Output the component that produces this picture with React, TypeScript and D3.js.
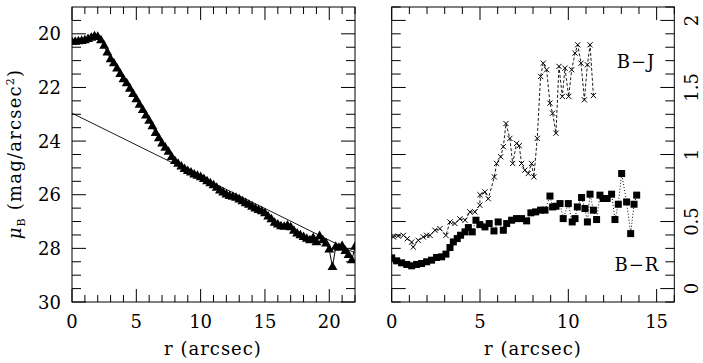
import * as React from "react";
import * as d3 from "d3";

// surface brightness profile, step 0.25 arcsec
const muR = d3.range(0, 89).map((i) => i * 0.25);
const muB = [
  20.3, 20.3, 20.28, 20.27, 20.25, 20.2, 20.15, 20.1, 20.12, 20.25, 20.45, 20.7,
  20.95, 21.1, 21.3, 21.5, 21.7, 21.85, 22.05, 22.25, 22.45, 22.65, 22.85, 23.05,
  23.25, 23.45, 23.7, 23.9, 24.1, 24.25, 24.4, 24.6, 24.75, 24.85, 24.95, 25.05,
  25.12, 25.18, 25.25, 25.3, 25.35, 25.42, 25.5, 25.58, 25.65, 25.75, 25.85, 25.92,
  26.0, 26.05, 26.08, 26.12, 26.18, 26.25, 26.32, 26.38, 26.45, 26.52, 26.58, 26.62,
  26.7, 26.82, 26.92, 27.05, 27.12, 27.18, 27.2, 27.15, 27.22, 27.35, 27.45, 27.52,
  27.58, 27.65, 27.7, 27.62, 27.78, 27.55, 27.7, 27.82, 28.05, 28.7, 27.95, 27.98,
  27.92, 28.1, 28.25, 28.45, 27.95,
];
// exponential disk fit
const fitR = [0, 22];
const fitMu = [22.96, 28.17];

const bjR = [
  0.09, 0.37, 0.66, 0.88, 1.13, 1.22, 1.5, 1.79, 1.98, 2.17, 2.45, 2.73, 3.07, 3.3,
  3.58, 3.86, 4.15, 4.43, 4.71, 4.99, 5.0, 5.28, 5.47, 5.81, 5.94, 6.17, 6.32, 6.47,
  6.69, 6.85, 7.07, 7.22, 7.35, 7.54, 7.73, 7.92, 8.05, 8.24, 8.43, 8.58, 8.77, 8.96,
  9.11, 9.3, 9.47, 9.66, 9.81, 10.02, 10.19, 10.38, 10.53, 10.72, 10.91, 11.08,
  11.23, 11.42,
];
const bjVal = [
  0.385, 0.392, 0.397, 0.372, 0.347, 0.31, 0.36, 0.385, 0.397, 0.397, 0.435, 0.447,
  0.397, 0.497, 0.485, 0.52, 0.51, 0.572, 0.572, 0.622, 0.7, 0.721, 0.67, 0.833,
  0.933, 0.983, 1.058, 1.231, 1.12, 0.933, 1.083, 1.066, 0.933, 0.883, 0.858, 0.933,
  0.833, 1.12, 1.582, 1.681, 1.632, 1.383, 1.308, 1.159, 1.657, 1.433, 1.644, 1.433,
  1.632, 1.756, 1.818, 1.681, 1.408, 1.669, 1.818, 1.44,
];

const brR = [
  0.0, 0.28, 0.56, 0.85, 1.13, 1.41, 1.69, 1.98, 2.26, 2.54, 2.83, 3.07, 3.3, 3.49,
  3.71, 3.9, 4.15, 4.34, 4.56, 4.77, 4.99, 5.28, 5.52, 5.79, 6.03, 6.32, 6.51, 6.79,
  7.07, 7.35, 7.64, 7.88, 8.15, 8.43, 8.68, 8.96, 9.11, 9.3, 9.53, 9.71, 10.0, 10.22,
  10.38, 10.51, 10.75, 10.94, 11.08, 11.23, 11.42, 11.6, 11.79, 11.98, 12.2, 12.45,
  12.64, 12.83, 13.02, 13.3, 13.53, 13.72, 13.87,
];
const brVal = [
  0.229, 0.207, 0.192, 0.18, 0.17, 0.18, 0.187, 0.2, 0.212, 0.232, 0.237, 0.257,
  0.306, 0.348, 0.373, 0.398, 0.423, 0.455, 0.423, 0.51, 0.477, 0.46, 0.485, 0.43,
  0.497, 0.435, 0.485, 0.51, 0.522, 0.522, 0.505, 0.565, 0.572, 0.585, 0.585, 0.69,
  0.609, 0.614, 0.634, 0.522, 0.634, 0.497, 0.522, 0.609, 0.679, 0.597, 0.497, 0.704,
  0.585, 0.515, 0.697, 0.672, 0.672, 0.704, 0.515, 0.629, 0.858, 0.646, 0.41, 0.629,
  0.697,
];

const leftXTicks = d3.range(0, 23);
const leftYTicks = d3.range(39, 61).map((d) => d / 2);
const rightXTicks = d3.range(0, 17);
const rightYTicks = d3.range(-1, 22).map((d) => d / 10);

const font = "DejaVu Serif";
const fs = 18;

const Frame = ({ x, y, xTicks, yTicks, isMajorX, isMajorY }) => {
  const [x0, x1] = x.range();
  const [y1, y0] = y.range();
  return (
    <g stroke="#000" strokeWidth={1} fill="none">
      <rect x={x0} y={y0} width={x1 - x0} height={y1 - y0} />
      {xTicks.map((t) => {
        const len = isMajorX(t) ? 13 : 7;
        const px = x(t);
        return (
          <g key={"x" + t}>
            <line x1={px} x2={px} y1={y1} y2={y1 - len} />
            <line x1={px} x2={px} y1={y0} y2={y0 + len} />
          </g>
        );
      })}
      {yTicks.map((t) => {
        const len = isMajorY(t) ? 14 : 9;
        const py = y(t);
        return (
          <g key={"y" + t}>
            <line x1={x0} x2={x0 + len} y1={py} y2={py} />
            <line x1={x1} x2={x1 - len} y1={py} y2={py} />
          </g>
        );
      })}
    </g>
  );
};

export default function App() {
  const width = 703;
  const height = 363;
  const top = 7;
  const bottom = 302;

  const xL = d3.scaleLinear().domain([0, 22]).range([72, 355]);
  const yL = d3.scaleLinear().domain([30, 19]).range([bottom, top]);
  const xR = d3.scaleLinear().domain([0, 16]).range([391.7, 674.3]);
  const yR = d3.scaleLinear().domain([-0.1, 2.1]).range([bottom, top]);

  const profileLine = d3
    .line<number>()
    .x((d, i) => xL(muR[i]))
    .y((d) => yL(d));
  const fitLine = d3
    .line<number>()
    .x((d, i) => xL(fitR[i]))
    .y((d) => yL(d));
  const bjLine = d3
    .line<number>()
    .x((d, i) => xR(bjR[i]))
    .y((d) => yR(d));
  const brLine = d3
    .line<number>()
    .x((d, i) => xR(brR[i]))
    .y((d) => yR(d));

  const tri = d3.symbol().type(d3.symbolTriangle).size(42)();

  return (
    <svg
      width={width}
      height={height}
      style={{ position: "absolute", left: 0, top: 0, background: "#fff" }}
      fontFamily={font}
      fontSize={fs}
    >
      <defs>
        <clipPath id="clipL">
          <rect x={72} y={top} width={283} height={bottom - top} />
        </clipPath>
        <clipPath id="clipR">
          <rect x={391.7} y={top} width={282.6} height={bottom - top} />
        </clipPath>
      </defs>

      {/* left panel */}
      <g clipPath="url(#clipL)">
        <path d={fitLine(fitMu)} stroke="#000" strokeWidth={0.9} fill="none" />
        <path d={profileLine(muB)} stroke="#000" strokeWidth={1} fill="none" />
        {muB.map((v, i) => (
          <path
            key={i}
            d={tri}
            transform={`translate(${xL(muR[i])},${yL(v)})`}
            fill="#000"
          />
        ))}
      </g>
      <Frame
        x={xL}
        y={yL}
        xTicks={leftXTicks}
        yTicks={leftYTicks}
        isMajorX={(t) => t % 5 === 0}
        isMajorY={(t) => t % 2 === 0}
      />
      {[0, 5, 10, 15, 20].map((t) => (
        <text key={t} x={xL(t)} y={328} textAnchor="middle">
          {t}
        </text>
      ))}
      {[20, 22, 24, 26, 28, 30].map((t) => (
        <text key={t} x={61} y={yL(t) + 6.5} textAnchor="end">
          {t}
        </text>
      ))}
      <text x={213} y={355} textAnchor="middle" letterSpacing={1}>
        r (arcsec)
      </text>
      <text
        transform="translate(21,154) rotate(-90)"
        textAnchor="middle"
        letterSpacing={1.2}
      >
        <tspan fontStyle="italic">μ</tspan>
        <tspan fontSize={11} dy={4}>B</tspan>
        <tspan dy={-4}> (mag/arcsec</tspan>
        <tspan fontSize={11} dy={-7}>2</tspan>
        <tspan dy={7}>)</tspan>
      </text>

      {/* right panel */}
      <g clipPath="url(#clipR)">
        <path
          d={bjLine(bjVal)}
          stroke="#000"
          strokeWidth={0.9}
          strokeDasharray="3,2"
          fill="none"
        />
        <path
          d={brLine(brVal)}
          stroke="#000"
          strokeWidth={1}
          strokeDasharray="1,2"
          fill="none"
        />
        {bjVal.map((v, i) => {
          const cx = xR(bjR[i]);
          const cy = yR(v);
          return (
            <path
              key={"bj" + i}
              d={`M${cx - 2.6},${cy - 2.6}L${cx + 2.6},${cy + 2.6}M${cx - 2.6},${cy + 2.6}L${cx + 2.6},${cy - 2.6}`}
              stroke="#000"
              strokeWidth={1}
            />
          );
        })}
        {brVal.map((v, i) => (
          <rect
            key={"br" + i}
            x={xR(brR[i]) - 3.5}
            y={yR(v) - 3.5}
            width={7}
            height={7}
            fill="#000"
          />
        ))}
      </g>
      <Frame
        x={xR}
        y={yR}
        xTicks={rightXTicks}
        yTicks={rightYTicks}
        isMajorX={(t) => t % 5 === 0}
        isMajorY={(t) => Math.round(t * 10) % 5 === 0}
      />
      {[0, 5, 10, 15].map((t) => (
        <text key={t} x={xR(t)} y={328} textAnchor="middle">
          {t}
        </text>
      ))}
      {[0, 0.5, 1, 1.5, 2].map((t) => (
        <text
          key={t}
          transform={`translate(698,${yR(t)}) rotate(-90)`}
          textAnchor="middle"
        >
          {t}
        </text>
      ))}
      <text x={533} y={355} textAnchor="middle" letterSpacing={1}>
        r (arcsec)
      </text>
      <text x={636} y={68} textAnchor="middle" letterSpacing={1}>
        B−J
      </text>
      <text x={637} y={271} textAnchor="middle" letterSpacing={1}>
        B−R
      </text>
    </svg>
  );
}
